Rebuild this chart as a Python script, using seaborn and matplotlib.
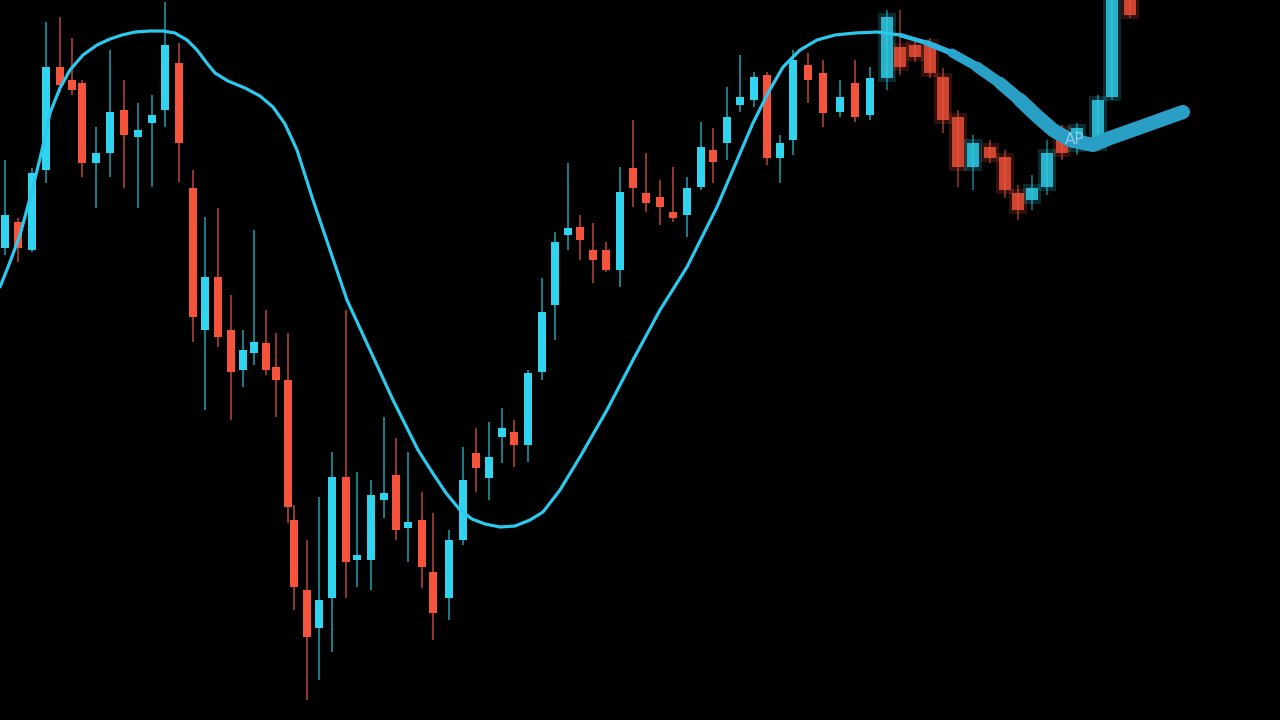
"""
Candlestick chart with a smoothed moving-average line on a black screen.
Values are read off the reference picture (price units, 0-720 scale).
"""

import numpy as np
import pandas as pd
import matplotlib
matplotlib.use("Agg")
import matplotlib.pyplot as plt
import seaborn as sns

# =========================
# Data
# =========================
# time position of each candle
candle_t = [5, 18, 32, 46, 60, 72, 82, 96, 110, 124, 138, 152, 165, 179, 193, 205,
            218, 231, 243, 254, 266, 276, 288, 294, 307, 319, 332, 346, 357, 371, 384,
            396, 408, 422, 433, 449, 463, 476, 489, 502, 514, 528, 542, 555, 568, 580,
            593, 606, 620, 633, 646, 660, 673, 687, 701, 713, 727, 740, 754, 767, 780,
            793, 808, 823, 840, 855, 870, 887, 900, 915, 930, 943, 958, 973, 990, 1005,
            1018, 1032, 1047, 1062, 1077, 1098, 1112, 1130]
opens = [472, 498, 470, 550, 653, 640, 637, 557, 567, 610, 583, 597, 610, 657, 532, 390,
         443, 390, 350, 367, 377, 353, 340, 200, 130, 92, 122, 243, 160, 160, 220,
         245, 192, 200, 148, 122, 180, 267, 242, 283, 288, 275, 348, 415, 485, 493,
         470, 470, 450, 552, 527, 523, 508, 505, 533, 570, 577, 615, 620, 645, 562,
         580, 655, 647, 608, 637, 605, 642, 673, 675, 677, 643, 603, 553, 573, 563,
         527, 520, 533, 590, 572, 573, 623, 720]
closes = [505, 472, 547, 653, 635, 630, 557, 567, 608, 585, 590, 605, 675, 577, 403, 443,
          383, 348, 370, 378, 350, 340, 213, 133, 83, 120, 243, 158, 165, 225, 227,
          190, 198, 153, 107, 180, 240, 252, 263, 292, 275, 347, 408, 478, 492, 480,
          460, 450, 528, 532, 517, 513, 502, 532, 573, 558, 603, 623, 643, 562, 577,
          660, 640, 607, 623, 603, 642, 703, 653, 663, 647, 600, 553, 577, 562, 530,
          510, 532, 567, 567, 592, 620, 720, 705]
highs = [560, 502, 552, 698, 703, 682, 640, 593, 670, 640, 617, 625, 718, 677, 550, 503,
         512, 425, 390, 490, 410, 387, 387, 215, 180, 223, 268, 410, 248, 240, 303,
         282, 268, 228, 207, 190, 273, 292, 298, 312, 300, 350, 442, 488, 557, 505,
         497, 478, 553, 600, 567, 540, 553, 543, 598, 592, 633, 665, 648, 648, 585,
         670, 667, 660, 640, 660, 653, 710, 710, 682, 682, 652, 610, 585, 580, 570,
         535, 545, 580, 595, 597, 625, 720, 720]
lows = [465, 458, 468, 537, 628, 625, 543, 512, 543, 532, 512, 533, 593, 538, 378, 310,
        373, 300, 333, 355, 345, 303, 197, 110, 20, 40, 68, 122, 133, 130, 202,
        180, 158, 132, 80, 100, 175, 228, 220, 257, 253, 258, 340, 380, 470, 460,
        437, 448, 433, 513, 508, 495, 498, 483, 530, 537, 560, 608, 613, 555, 537,
        565, 617, 593, 603, 598, 600, 630, 645, 658, 642, 587, 533, 530, 557, 522,
        500, 510, 525, 560, 565, 570, 620, 702]

# moving-average curve
ma_t = [0, 10, 20, 33, 42, 50, 60, 70, 83, 97, 110, 122, 135, 150, 163, 175,
        187, 197, 206, 215, 228, 245, 260, 273, 285, 297, 313, 330, 347, 370,
        393, 418, 432, 446, 460, 472, 485, 500, 515, 530, 543, 560, 580, 607,
        633, 660, 687, 717, 735, 753, 768, 783, 800, 817, 835, 855, 877, 900,
        927, 952, 977, 1000, 1020, 1038, 1053, 1070, 1093, 1110, 1127, 1155, 1183]
ma_v = [433, 458, 485, 533, 570, 607, 632, 650, 665, 675, 681, 685, 688, 689, 689, 687,
        680, 670, 658, 647, 639, 632, 624, 613, 596, 570, 520, 470, 420, 370,
        320, 270, 248, 227, 210, 201, 196, 193, 194, 200, 208, 230, 263, 310,
        360, 410, 453, 513, 555, 597, 627, 653, 670, 680, 685, 687, 688, 685,
        677, 667, 653, 637, 620, 603, 590, 580, 575, 582, 588, 598, 608]

df = pd.DataFrame({"t": candle_t, "open": opens, "close": closes,
                   "high": highs, "low": lows})
df["up"] = df["close"] >= df["open"]
ma = pd.DataFrame({"t": ma_t, "value": ma_v})

# =========================
# Style
# =========================
sns.set_theme(style="dark", rc={"axes.facecolor": "black", "figure.facecolor": "black"})

UP = "#30d4ef"
DOWN = "#f5533b"
UP_WICK = "#1e9fae"
DOWN_WICK = "#b8473a"
LINE = "#2cc8ee"
BAND = "#2a9fc6"

fig = plt.figure(figsize=(12.8, 7.2), dpi=100)
ax = fig.add_axes([0, 0, 1, 1])
ax.set_facecolor("black")

# =========================
# Candles
# =========================
sharp = df[df["t"] < 880]
blurry = df[df["t"] >= 880]

for part, body_w, alpha in [(sharp, 8, 1.0), (blurry, 12, 0.8)]:
    body_col = np.where(part["up"], UP, DOWN)
    wick_col = np.where(part["up"], UP_WICK, DOWN_WICK)
    ax.vlines(part["t"], part["low"], part["high"], colors=wick_col,
              linewidth=1.4, alpha=0.8 * alpha, zorder=2)
    bottom = np.minimum(part["open"], part["close"])
    height = np.maximum(np.abs(part["close"] - part["open"]), 4)
    if alpha < 1:
        # soft glow for the out-of-focus right side
        ax.bar(part["t"], height + 8, bottom=bottom - 4, width=body_w + 6,
               color=body_col, alpha=0.2, linewidth=0, zorder=2)
    ax.bar(part["t"], height, bottom=bottom, width=body_w, color=body_col,
           alpha=alpha, linewidth=0, zorder=3)

# =========================
# Moving-average line
# =========================
thin = ma[ma["t"] <= 930]
sns.lineplot(data=thin, x="t", y="value", ax=ax, color=LINE, linewidth=2.3,
             sort=False, estimator=None, zorder=4,
             solid_capstyle="round", solid_joinstyle="round")

# the line gets wider and softer towards the right (out of focus)
layers = [(890, 3.2, "#2bbde6"), (910, 4.2, "#2bb3de"), (930, 5.3, "#2aaad6"),
          (952, 6.5, "#2aa4cf"), (977, 7.8, BAND), (1000, 9.0, BAND), (1020, 10.2, BAND)]
for start, lw, col in layers:
    seg = ma[ma["t"] >= start]
    sns.lineplot(data=seg, x="t", y="value", ax=ax, color=col, linewidth=lw,
                 sort=False, estimator=None, zorder=4,
                 solid_capstyle="round", solid_joinstyle="round")

ax.text(1075, 580, "AP", color="#d8f4ff", fontsize=11, alpha=0.55,
        ha="center", va="center", zorder=5)

ax.set_xlim(0, 1280)
ax.set_ylim(0, 720)
ax.set_axis_off()

fig.savefig("out.png", dpi=100, facecolor="black")
plt.close(fig)
